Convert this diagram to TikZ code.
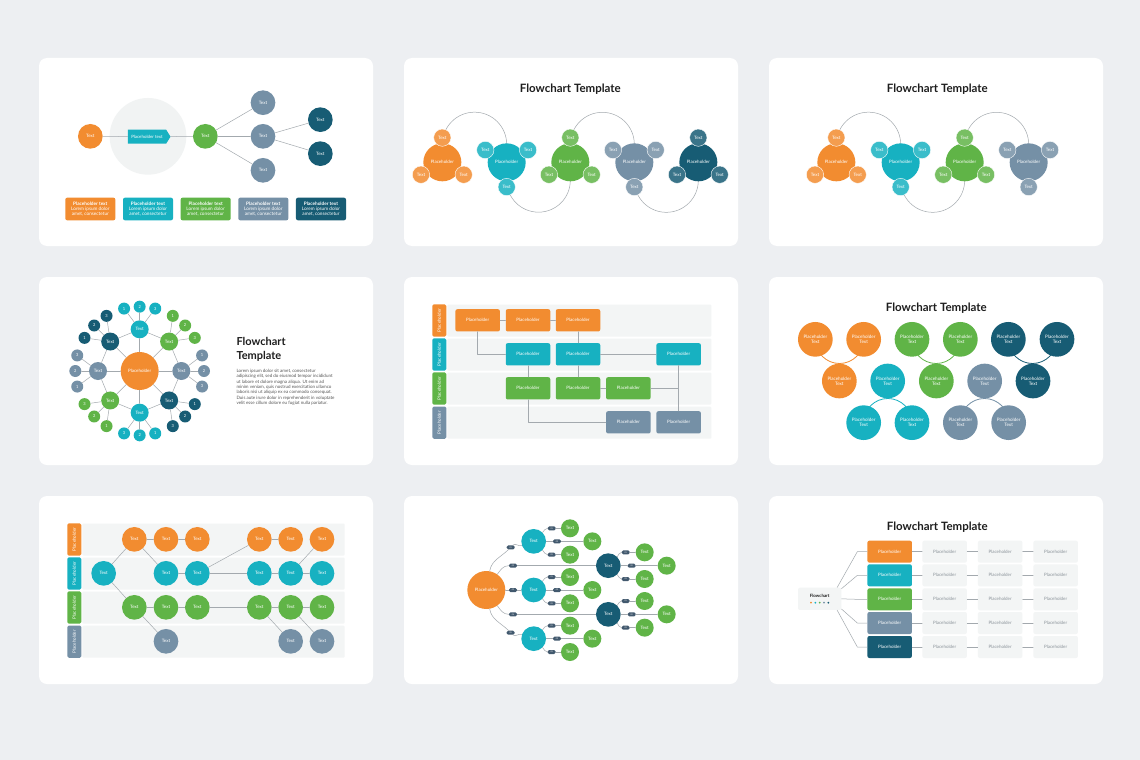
\documentclass[tikz,border=0pt]{standalone}
\usepackage{fontspec}
\setmainfont{Lato}
\usetikzlibrary{positioning,calc,shapes.symbols}
\pgfdeclarelayer{paper}
\pgfdeclarelayer{under}
\pgfsetlayers{paper,under,main}
\definecolor{fcbg}{HTML}{EDEFF2}
\definecolor{fcorange}{HTML}{F28C30}
\definecolor{fcteal}{HTML}{17B1C1}
\definecolor{fcgreen}{HTML}{60B447}
\definecolor{fcslate}{HTML}{7590A6}
\definecolor{fcnavy}{HTML}{175C74}
\definecolor{fcline}{HTML}{A3A9AE}
\definecolor{fclane}{HTML}{F3F5F5}
\definecolor{fcpale}{HTML}{F1F3F3}
\definecolor{fcpill}{HTML}{42596E}
\definecolor{fctext}{HTML}{1E1E1E}
\definecolor{fcgrey}{HTML}{8A9299}
\begin{document}
\begin{tikzpicture}[x=1pt,y=1pt,line cap=round,line join=round,
  card/.style={fill=white,rounded corners=8pt},
  ball/.style 2 args={circle,fill=#1,text=white,minimum size=#2,inner sep=0pt,font=\fontsize{4.5}{5.4}\selectfont},
  sat/.style 2 args={ball={#1!85!white}{#2},draw=white,line width=0.4pt},
  link/.style={draw=fcline,line width=0.5pt},
  loopline/.style={draw=fcline,line width=0.5pt},
  title/.style={font=\fontsize{11.5}{13}\selectfont\bfseries,text=fctext,inner sep=0pt},
  pbox/.style={rectangle,rounded corners=2pt,fill=#1,text=white,minimum width=44.5pt,minimum height=22.3pt,inner sep=0pt,font=\fontsize{4.5}{5.4}\selectfont},
  greybox/.style={pbox=fclane,text=fcgrey},
  infobox/.style={pbox=#1,minimum width=50pt,minimum height=22.7pt,align=center,font=\fontsize{4.7}{5.3}\selectfont},
  lanetag/.style={rectangle,rounded corners=1.5pt,fill=#1,text=white,rotate=90,minimum width=32.3pt,minimum height=14pt,inner sep=0pt,font=\fontsize{4.5}{5.4}\selectfont},
  tag/.style={signal,signal to=east,signal pointer angle=116,fill=fcteal,text=white,minimum width=42.7pt,minimum height=14pt,inner sep=0pt,font=\fontsize{4.4}{5.3}\selectfont},
  pill/.style={rectangle,rounded corners=1.5pt,fill=fcpill,text=white,minimum width=8pt,minimum height=4pt,inner sep=0pt,font=\fontsize{2}{2}\selectfont},
  para/.style={align=left,inner sep=0pt,text=fctext!75,font=\fontsize{4.5}{5.3}\selectfont}]
\useasboundingbox (0,0) rectangle (1140,-760);
\begin{pgfonlayer}{paper}
  \fill[fcbg] (0,0) rectangle (1140,-760);
  \foreach \cx in {39,404,769}
    \foreach \cy in {58,277,496}
      \fill[card] (\cx,-\cy) rectangle ++(334,-188);
\end{pgfonlayer}

\begin{scope}[shift={(38,-57)},x=0.33333pt,y=0.33333pt]
  \begin{pgfonlayer}{paper}
    \fill[fcpale] (330,-238) circle[radius=115];
  \end{pgfonlayer}
  \node[ball={fcorange}{24.7pt}] (a1) at (157,-238) {Text};
  \node[tag] (a2) at (327,-239) {Placeholder text};
  \node[ball={fcgreen}{24.7pt}] (a3) at (502,-238) {Text};
  \node[ball={fcslate}{24.7pt}] (a4) at (675,-137) {Text};
  \node[ball={fcslate}{24.7pt}] (a5) at (675,-238) {Text};
  \node[ball={fcslate}{24.7pt}] (a6) at (675,-340) {Text};
  \node[ball={fcnavy}{24.7pt}] (a7) at (847,-188) {Text};
  \node[ball={fcnavy}{24.7pt}] (a8) at (847,-290) {Text};
  \draw[link] (a1) -- (a2);
  \draw[link] (a2) -- (a3);
  \foreach \k in {4,5,6}
    \draw[link] (a3) -- (a\k);
  \draw[link] (a5) -- (a7) (a5) -- (a8);
  \foreach \c [count=\i] in {fcorange,fcteal,fcgreen,fcslate,fcnavy}
    \node[infobox=\c] (b\i) at (-16+173*\i,-456) {\textbf{Placeholder text}\\Lorem ipsum dolor\\amet, consectetur};
\end{scope}

\begin{scope}[shift={(403,-57)},x=0.33333pt,y=0.33333pt]
  \node[title] (t2) at (502,-96) {Flowchart Template};
  \foreach \x/\c/\r [count=\i] in {118/fcorange/90,311/fcteal/30,502/fcgreen/90,694/fcslate/30,886/fcnavy/90}{
    \node[ball={\c}{38pt}] (h\i) at (\x,-316) {Placeholder};
    \foreach \a [count=\j] in {0,120,240}
      \node[sat={\c}{17.3pt}] (h\i-\j) at ($(h\i)+(\r+\a:74)$) {Text};
  }
  \begin{pgfonlayer}{under}
    \draw[loopline] ([yshift=18pt]h1.center) arc[start angle=180,end angle=0,radius=96.5];
    \draw[loopline] ([yshift=-18pt]h2.center) arc[start angle=180,end angle=360,radius=95.5];
    \draw[loopline] ([yshift=18pt]h3.center) arc[start angle=180,end angle=0,radius=96];
    \draw[loopline] ([yshift=-18pt]h4.center) arc[start angle=180,end angle=360,radius=96];
  \end{pgfonlayer}
\end{scope}

\begin{scope}[shift={(768,-57)},x=0.33333pt,y=0.33333pt]
  \node[title] (t3) at (508,-96) {Flowchart Template};
  \foreach \x/\c/\r [count=\i] in {205/fcorange/90,398/fcteal/30,590/fcgreen/90,782/fcslate/30}{
    \node[ball={\c}{38pt}] (w\i) at (\x,-316) {Placeholder};
    \foreach \a [count=\j] in {0,120,240}
      \node[sat={\c}{17.3pt}] (w\i-\j) at ($(w\i)+(\r+\a:74)$) {Text};
  }
  \begin{pgfonlayer}{under}
    \draw[loopline] ([yshift=18pt]w1.center) arc[start angle=180,end angle=0,radius=96.5];
    \draw[loopline] ([yshift=-18pt]w2.center) arc[start angle=180,end angle=360,radius=96];
    \draw[loopline] ([yshift=18pt]w3.center) arc[start angle=180,end angle=0,radius=96];
  \end{pgfonlayer}
\end{scope}

\begin{scope}[shift={(38,-276)},x=0.33333pt,y=0.33333pt]
  \node[ball={fcorange}{38pt}] (c0) at (305,-285) {Placeholder};
  \foreach \a/\c [count=\i] in {90/fcteal,45/fcgreen,0/fcslate,-45/fcnavy,-90/fcteal,-135/fcgreen,180/fcslate,135/fcnavy}{
    \node[ball={\c}{18pt}] (m\i) at ($(c0)+(\a:125)$) {Text};
    \foreach \d [count=\j] in {14,0,-14}
      \node[ball={\c}{12pt},font=\fontsize{4}{5}\selectfont] (m\i-\j) at ($(c0)+(\a+\d:193)$) {\j};
  }
  \foreach \i in {1,...,8}{
    \draw[link] (c0) -- (m\i);
    \foreach \j in {1,2,3}
      \draw[link] (m\i) -- (m\i-\j);
  }
  \foreach \i/\k in {1/2,2/3,3/4,4/5,5/6,6/7,7/8,8/1}
    \draw[link] (m\i) -- (m\k);
  \node[title,font=\fontsize{11}{13}\selectfont\bfseries,anchor=base west] (t4a) at (595,-207) {Flowchart};
  \node[title,font=\fontsize{11}{13}\selectfont\bfseries,anchor=base west] (t4b) at ([yshift=-14pt]t4a.base west) {Template};
  \node[para,anchor=north west] (p4) at (595,-279) {Lorem ipsum dolor sit amet, consectetur\\
    adipiscing elit, sed do eiusmod tempor incididunt\\
    ut labore et dolore magna aliqua. Ut enim ad\\
    minim veniam, quis nostrud exercitation ullamco\\
    laboris nisi ut aliquip ex ea commodo consequat.\\
    Duis aute irure dolor in reprehenderit in voluptate\\
    velit esse cillum dolore eu fugiat nulla pariatur.};
\end{scope}

\begin{scope}[shift={(403,-276)},x=0.33333pt,y=0.33333pt]
  \foreach \y/\c [count=\i] in {133.5/fcorange,235.5/fcteal,337.5/fcgreen,440/fcslate}{
    \begin{pgfonlayer}{paper}
      \fill[fclane,rounded corners=1pt] (133,-\y+48) rectangle (925,-\y-48);
    \end{pgfonlayer}
    \node[lanetag=\c] (l\i) at (109,-\y) {Placeholder};
  }
  \node[pbox=fcorange] (p11) at (224,-133) {Placeholder};
  \node[pbox=fcorange] (p12) at (375,-133) {Placeholder};
  \node[pbox=fcorange] (p13) at (525,-133) {Placeholder};
  \node[pbox=fcteal] (p21) at (375,-235) {Placeholder};
  \node[pbox=fcteal] (p22) at (525,-235) {Placeholder};
  \node[pbox=fcteal] (p23) at (827,-235) {Placeholder};
  \node[pbox=fcgreen] (p31) at (375,-337) {Placeholder};
  \node[pbox=fcgreen] (p32) at (525,-337) {Placeholder};
  \node[pbox=fcgreen] (p33) at (676,-337) {Placeholder};
  \node[pbox=fcslate] (p41) at (676,-439) {Placeholder};
  \node[pbox=fcslate] (p42) at (827,-439) {Placeholder};
  \draw[link] (p11) -- (p12);
  \draw[link] (p12) -- (p13);
  \draw[link] (p11) |- (p21);
  \draw[link] (p13) -- (p22);
  \draw[link] (p22) -- (p23);
  \draw[link] (p21) -- (p31);
  \draw[link] (p31) |- (p41);
  \draw[link] (p22) -- (p32);
  \draw[link] (p32) -- (p33);
  \draw[link] (p23) -- (p42);
  \draw[link] (p33) -| (p23);
\end{scope}

\begin{scope}[shift={(768,-276)},x=0.33333pt,y=0.33333pt]
  \node[title] (t6) at (505,-96) {Flowchart Template};
  \foreach \x/\y/\c [count=\i] in {142/190/fcorange,287/190/fcorange,214/315/fcorange,
      432/190/fcgreen,577/190/fcgreen,505/315/fcgreen,
      721/190/fcnavy,867/190/fcnavy,795/315/fcnavy,
      359/315/fcteal,287/440/fcteal,432/440/fcteal,
      650/315/fcslate,577/440/fcslate,722/440/fcslate}
    \node[ball={\c}{34.7pt},align=center,font=\fontsize{4.6}{5.2}\selectfont] (r\i) at (\x,-\y) {Placeholder\\Text};
  \begin{pgfonlayer}{under}
    \foreach \i/\c in {1/fcorange,4/fcgreen,7/fcnavy}
      \draw[\c,line width=0.8pt] (r\i.center) arc[start angle=180,end angle=360,radius=72.5];
    \foreach \i/\c in {11/fcteal,14/fcslate}
      \draw[\c,line width=0.8pt] (r\i.center) arc[start angle=180,end angle=0,radius=72.5];
  \end{pgfonlayer}
\end{scope}

\begin{scope}[shift={(38,-495)},x=0.33333pt,y=0.33333pt]
  \foreach \y/\c [count=\i] in {133.5/fcorange,235.5/fcteal,337.5/fcgreen,440/fcslate}{
    \begin{pgfonlayer}{paper}
      \fill[fclane,rounded corners=1pt] (133,-\y+48) rectangle (920,-\y-48);
    \end{pgfonlayer}
    \node[lanetag=\c] (k\i) at (109,-\y) {Placeholder};
  }
  \foreach \x [count=\i] in {289,384,478,664,758,852}
    \node[ball={fcorange}{24.7pt}] (o\i) at (\x,-133) {Text};
  \foreach \x [count=\i] in {197,384,478,664,758,852}
    \node[ball={fcteal}{24.7pt}] (t\i) at (\x,-235) {Text};
  \foreach \x [count=\i] in {289,384,478,664,758,852}
    \node[ball={fcgreen}{24.7pt}] (g\i) at (\x,-337) {Text};
  \foreach \x [count=\i] in {384,758,852}
    \node[ball={fcslate}{24.7pt}] (s\i) at (\x,-439) {Text};
  \foreach \a/\b in {t1/o1,t1/g1,o1/o2,o2/o3,o1/t2,t2/t3,t3/o4,t3/t4,o4/o5,t4/t5,t5/t6,t5/o6,
      g1/g2,g2/g3,g3/g4,g4/g5,g5/g6,g1/s1,g4/s2,g5/s3}
    \draw[link] (\a) -- (\b);
\end{scope}

\begin{scope}[shift={(403,-495)},x=0.33333pt,y=0.33333pt]
  \node[ball={fcorange}{38pt}] (ph) at (250,-285) {Placeholder};
  \foreach \y [count=\i] in {139,285,431}
    \node[ball={fcteal}{24.7pt}] (u\i) at (392,-\y) {Text};
  \foreach \y [count=\i] in {212,358}
    \node[ball={fcnavy}{24.7pt}] (n\i) at (616,-\y) {Text};
  \foreach \i in {1,2,3}{
    \node[ball={fcgreen}{18pt}] (u\i-1) at ($(u\i)+(109,39)$) {Text};
    \node[ball={fcgreen}{18pt}] (u\i-2) at ($(u\i)+(176,0)$) {Text};
    \node[ball={fcgreen}{18pt}] (u\i-3) at ($(u\i)+(109,-40)$) {Text};
    \node[pill] (v\i-1) at ($(u\i)+(54,39)$) {01};
    \node[pill] (v\i-2) at ($(u\i)+(70,0)$) {02};
    \node[pill] (v\i-3) at ($(u\i)+(54,-40)$) {03};
    \draw[link] (u\i) to[out=45,in=180] (v\i-1);
    \draw[link] (v\i-1) -- (u\i-1);
    \draw[link] (u\i) -- (v\i-2) -- (u\i-2);
    \draw[link] (u\i) to[out=-45,in=180] (v\i-3);
    \draw[link] (v\i-3) -- (u\i-3);
  }
  \foreach \i in {1,2}{
    \node[ball={fcgreen}{18pt}] (n\i-1) at ($(n\i)+(109,40)$) {Text};
    \node[ball={fcgreen}{18pt}] (n\i-2) at ($(n\i)+(175,0)$) {Text};
    \node[ball={fcgreen}{18pt}] (n\i-3) at ($(n\i)+(109,-40)$) {Text};
    \node[pill] (z\i-1) at ($(n\i)+(52,40)$) {01};
    \node[pill] (z\i-2) at ($(n\i)+(70,0)$) {02};
    \node[pill] (z\i-3) at ($(n\i)+(52,-40)$) {03};
    \draw[link] (n\i) to[out=45,in=180] (z\i-1);
    \draw[link] (z\i-1) -- (n\i-1);
    \draw[link] (n\i) -- (z\i-2) -- (n\i-2);
    \draw[link] (n\i) to[out=-45,in=180] (z\i-3);
    \draw[link] (z\i-3) -- (n\i-3);
  }
  \node[pill] (q1) at (323,-157) {01};
  \node[pill] (q2) at (330,-212) {02};
  \node[pill] (q3) at (330,-285) {03};
  \node[pill] (q4) at (330,-358) {04};
  \node[pill] (q5) at (323,-413) {05};
  \draw[link] (ph) to[out=80,in=225] (q1);
  \draw[link] (q1) to[out=45,in=200] (u1);
  \draw[link] (ph) to[out=55,in=180] (q2);
  \draw[link] (q2) -- (n1);
  \draw[link] (ph) -- (q3) -- (u2);
  \draw[link] (ph) to[out=-55,in=180] (q4);
  \draw[link] (q4) -- (n2);
  \draw[link] (ph) to[out=-80,in=135] (q5);
  \draw[link] (q5) to[out=-45,in=160] (u3);
\end{scope}

\begin{scope}[shift={(768,-495)},x=0.33333pt,y=0.33333pt]
  \node[title] (t9) at (508,-96) {Flowchart Template};
  \node[pbox=fclane,minimum width=43.3pt,minimum height=22.3pt] (fc) at (155,-311.5) {};
  \node[text=fctext,font=\fontsize{4.4}{5}\selectfont\bfseries,inner sep=0pt] (fct) at (155,-302) {Flowchart};
  \foreach \c [count=\i] in {fcorange,fcteal,fcgreen,fcslate,fcnavy}
    \fill[\c] (116+13*\i,-323) circle[radius=3];
  \foreach \y/\c/\a [count=\i] in {170/fcorange/33,241/fcteal/25,313/fcgreen/0,384/fcslate/-25,456/fcnavy/-33}{
    \node[pbox=\c,minimum height=22pt] (cb\i) at (365,-\y) {Placeholder};
    \foreach \x [count=\j] in {530,696.5,863}
      \node[greybox,minimum height=22pt] (gb\i-\j) at (\x,-\y) {Placeholder};
    \coordinate (kb\i) at (268,-\y);
    \draw[link] (fc.\a) -- (kb\i) -- (cb\i);
    \draw[link] (cb\i) -- (gb\i-1);
    \draw[link] (gb\i-1) -- (gb\i-2);
    \draw[link] (gb\i-2) -- (gb\i-3);
  }
\end{scope}
\end{tikzpicture}
\end{document}
